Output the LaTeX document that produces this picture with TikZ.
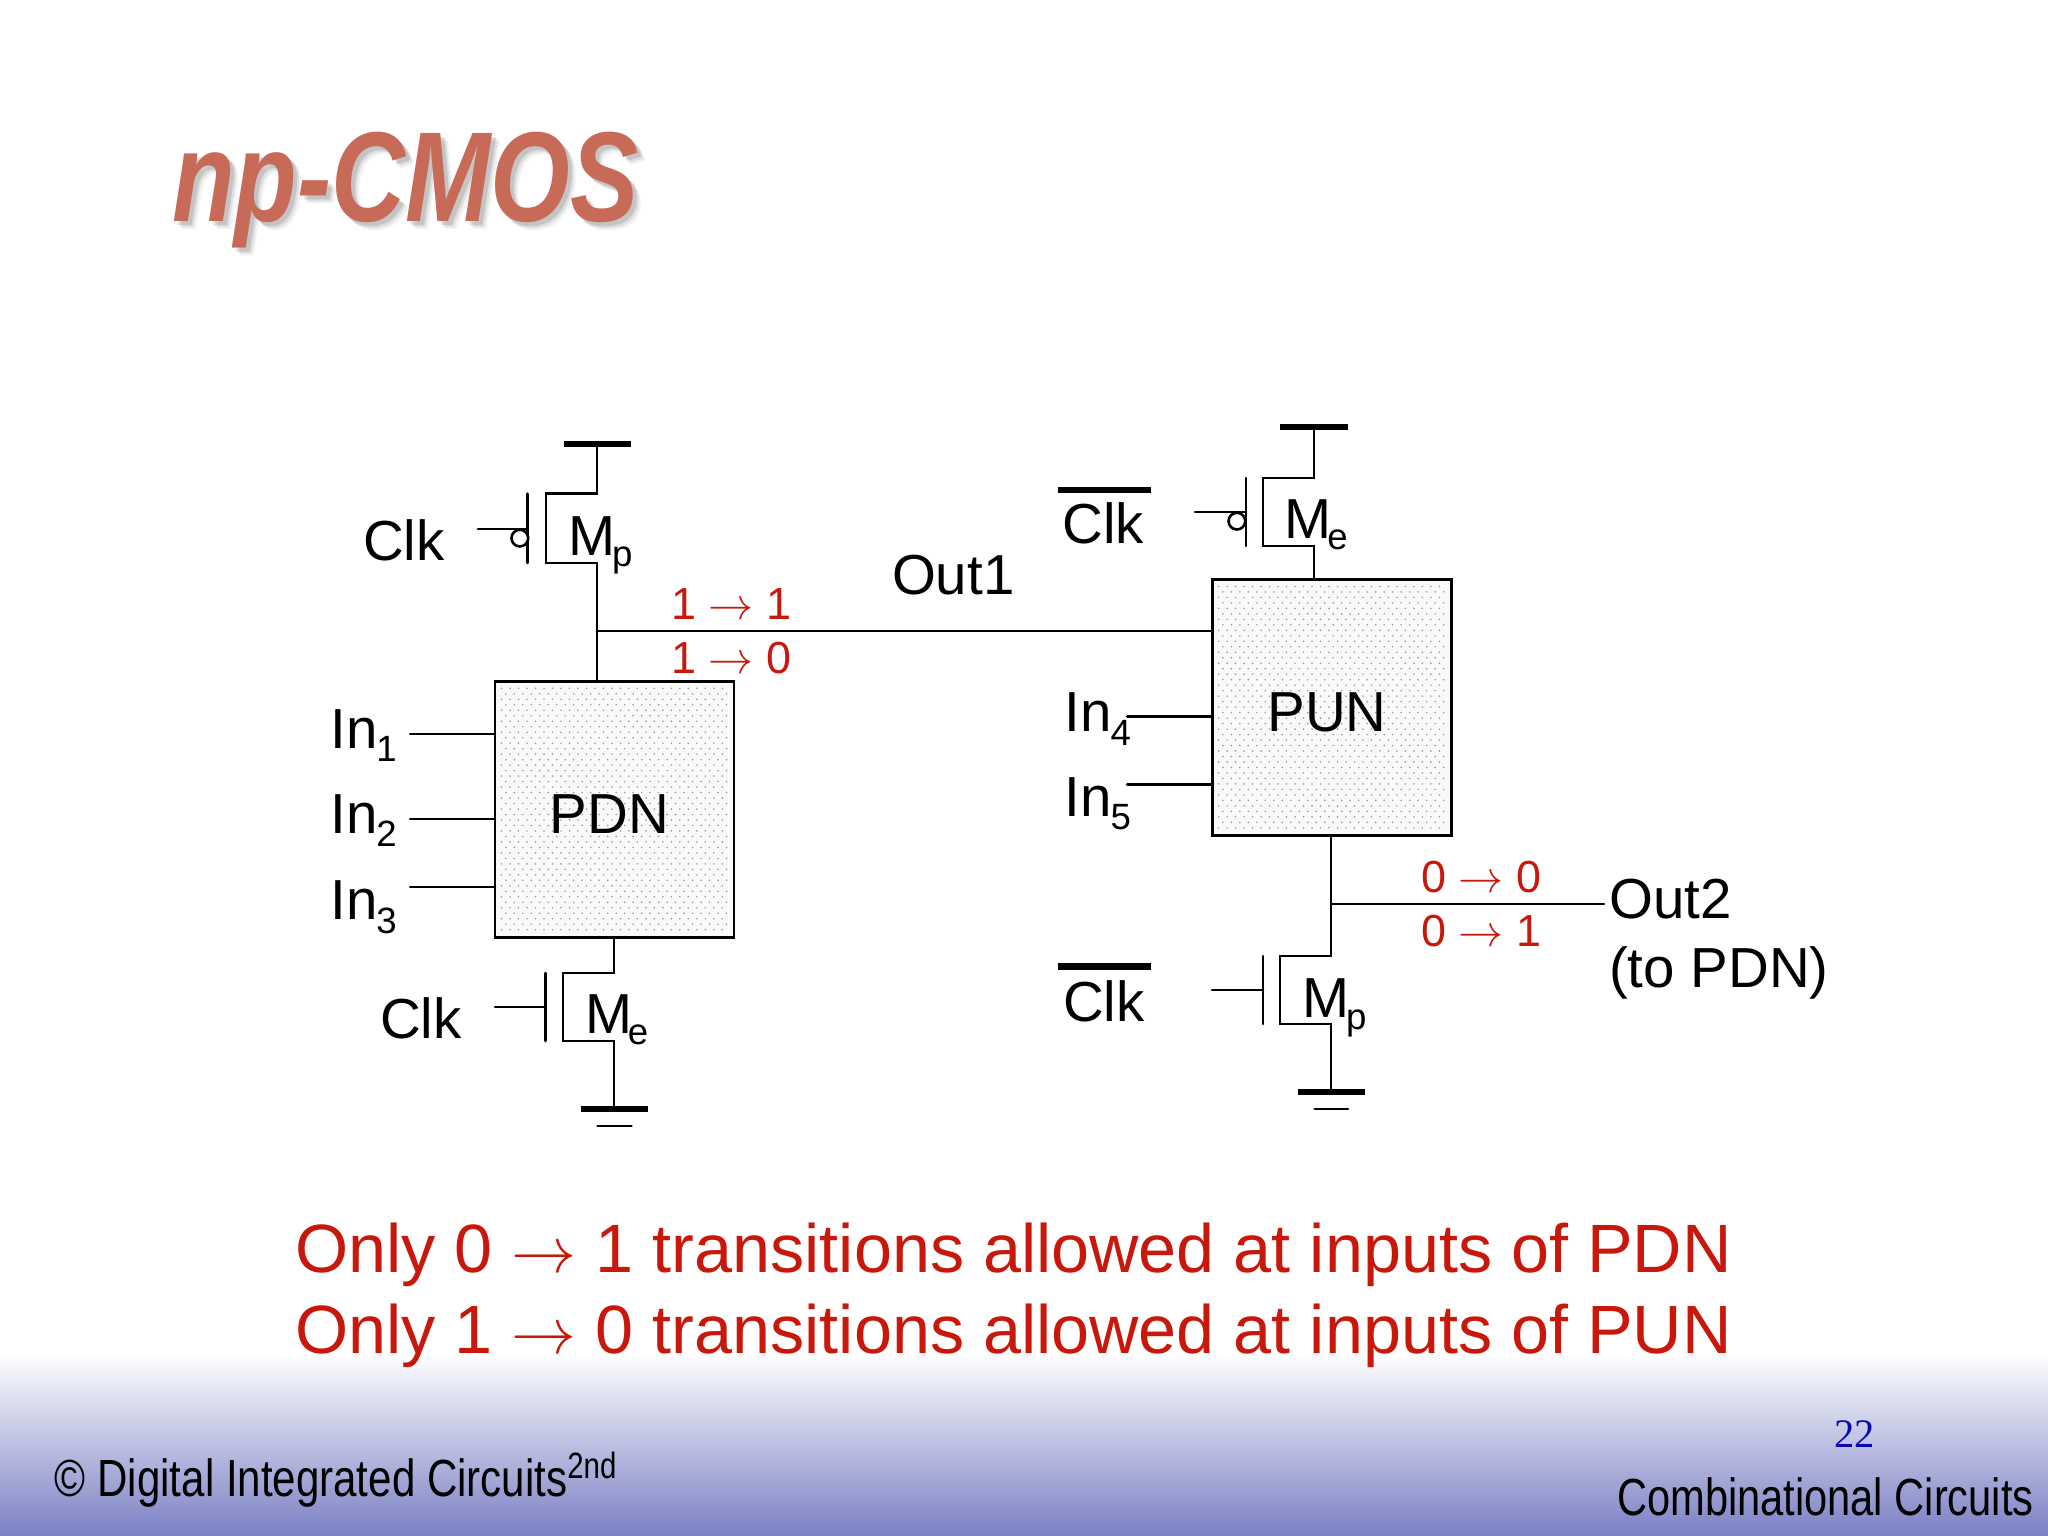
\documentclass[tikz,border=0pt]{standalone}
\usepackage{fontspec}
\setmainfont{Liberation Sans}
\newfontfamily\serifnum{Liberation Serif}
\definecolor{sigred}{HTML}{C8180C}
\definecolor{titlered}{HTML}{C76B58}
\definecolor{footblue}{HTML}{7A80C4}
\definecolor{pagenum}{HTML}{0A0AB4}
\definecolor{stipbg}{HTML}{FAF9FA}
\definecolor{stipdot}{HTML}{A09DA2}
\newcommand{\subs}[1]{\hspace{-.4pt}\raisebox{-5.2pt}{\fontsize{14}{14}\selectfont #1}}
\newcommand{\subp}{\hspace{-1.2pt}\raisebox{-4.5pt}{\fontsize{14}{14}\selectfont p}}
\newcommand{\sube}{\hspace{-1.6pt}\raisebox{-4.5pt}{\fontsize{14}{14}\selectfont e}}
\newcommand{\stipple}[4]{%
  \fill[stipdot] \foreach \i in {0,...,#3} {\foreach \j in {0,...,#4} {
     ({#1+5+6.5*\i+3.25*mod(\j,2)},{#2+5+4.2*\j}) circle[radius=.7]}};}
\tikzset{
  wire/.style={line width=1pt,line cap=round,line join=miter},
  railbar/.style={line width=2.4pt},
  overbar/.style={line width=2.5pt},
  netbox/.style={draw,line width=1.1pt,fill=stipbg,anchor=north west,inner sep=0pt,outer sep=0pt},
  txt/.style={anchor=base west,inner sep=0pt,outer sep=0pt,font=\fontsize{21.6}{25}\selectfont},
  ctxt/.style={anchor=base,inner sep=0pt,outer sep=0pt,font=\fontsize{21.6}{25}\selectfont},
  lvl/.style={anchor=base west,inner sep=0pt,outer sep=0pt,text=sigred,font=\fontsize{17.2}{21}\selectfont},
  note/.style={anchor=base west,inner sep=0pt,outer sep=0pt,text=sigred,font=\fontsize{26.17}{30}\selectfont},
  foot/.style={anchor=base west,inner sep=0pt,outer sep=0pt,font=\fontsize{20}{24}\selectfont},
  bubble/.style={draw,circle,fill=white,line width=1pt,minimum size=6.4pt,inner sep=0pt},
}
\begin{document}
\begin{tikzpicture}[x=.5pt,y=-.5pt]
\useasboundingbox (0,0) rectangle (1568,1176);
\shade[top color=white,bottom color=footblue] (0,1036) rectangle (1568,1176);

% title
\foreach \d/\o in {6/.05,4.5/.08,3/.12}
  \node[anchor=base west,inner sep=0pt,text=black,opacity=\o,font=\fontsize{49}{50}\bfseries\itshape\selectfont] at ({131.5+\d},{169.5+\d}) {\scalebox{.8}[1]{np-CMOS}};
\node[name=title,anchor=base west,inner sep=0pt,text=titlered,font=\fontsize{49}{50}\bfseries\itshape\selectfont] at (131.5,169.5) {\scalebox{.8}[1]{np-CMOS}};

% logic blocks
\node[netbox,minimum width=91.5pt,minimum height=98pt] (pdn) at (379,522) {};
\stipple{379}{522}{26}{44}
\node[netbox,minimum width=91.5pt,minimum height=98pt] (pun) at (928,444) {};
\stipple{928}{444}{26}{44}
\node[ctxt] (pdnt) at (466.5,638) {PDN};
\node[ctxt] (punt) at (1016,560) {PUN};

% left precharge transistor
\coordinate (vddL) at (457,340);
\coordinate (mpS) at (457,378);
\coordinate (mpC) at (418,378);
\coordinate (mpE) at (418,431);
\coordinate (mpD) at (457,431);
\coordinate (pdnT) at (457,522);
\coordinate (outJ) at (457,483);
\coordinate (mpG1) at (404,378);
\coordinate (mpG2) at (404,431);
\coordinate (mpIn) at (366,405);
\coordinate (mpGm) at (404,405);
\draw[railbar] (432,340) -- (483,340);
\draw[wire] (vddL) -- (mpS) -- (mpC) -- (mpE) -- (mpD) -- (pdnT);
\draw[wire] (mpG1) -- (mpG2);
\draw[wire] (mpIn) -- (mpGm);
\node[bubble] (mpB) at (398,412) {};
\node[txt] (clkA) at (278,429) {Clk};
\node[txt] (mpL) at (435,425) {M\subp};

% Out1
\draw[wire] (outJ) -- (928,483);
\node[txt] (out1) at (683,455) {Out1};
\node[lvl] (l11) at (514,474) {1 $\rightarrow$ 1};
\node[lvl] (l10) at (514,516) {1 $\rightarrow$ 0};

% PDN inputs
\node[txt] (in1) at (253,573) {In\subs{1}};
\node[txt] (in2) at (253,638) {In\subs{2}};
\node[txt] (in3) at (253,704) {In\subs{3}};
\coordinate (in1a) at (314,562);
\coordinate (in2a) at (314,627);
\coordinate (in3a) at (314,679);
\draw[wire] (in1a) -- (in1a -| pdn.west);
\draw[wire] (in2a) -- (in2a -| pdn.west);
\draw[wire] (in3a) -- (in3a -| pdn.west);

% left evaluate transistor
\coordinate (pdnB) at (470,718);
\coordinate (meS) at (470,745);
\coordinate (meC) at (431,745);
\coordinate (meE) at (431,797);
\coordinate (meD) at (470,797);
\coordinate (gndL) at (470,849);
\draw[wire] (pdnB) -- (meS) -- (meC) -- (meE) -- (meD) -- (gndL);
\draw[wire] (417.5,745) -- (417.5,797);
\draw[wire] (379,771) -- (417.5,771);
\draw[railbar] (445,849) -- (496,849);
\draw[wire] (457.5,862) -- (483.5,862);
\node[txt] (clkB) at (291,795) {Clk};
\node[txt] (meL) at (448,791) {M\sube};

% right evaluate transistor
\coordinate (vddR) at (1006,327);
\coordinate (rS) at (1006,366);
\coordinate (rC) at (967,366);
\coordinate (rE) at (967,418);
\coordinate (rD) at (1006,418);
\coordinate (punT) at (1006,444);
\draw[railbar] (980,327) -- (1032,327);
\draw[wire] (vddR) -- (rS) -- (rC) -- (rE) -- (rD) -- (punT);
\draw[wire] (954,366) -- (954,418);
\draw[wire] (915,392) -- (954,392);
\node[bubble] (rB) at (947,399) {};
\node[txt] (clkC) at (813.5,416) {Clk};
\draw[overbar] (810,375) -- (881,375);
\node[txt] (meR) at (983.5,412) {M\sube};

% PUN inputs
\node[txt] (in4) at (815,560) {In\subs{4}};
\node[txt] (in5) at (815,625) {In\subs{5}};
\coordinate (in4a) at (863,548.5);
\coordinate (in5a) at (863,600.5);
\draw[wire] (in4a) -- (in4a -| pun.west);
\draw[wire] (in5a) -- (in5a -| pun.west);

% right precharge transistor
\coordinate (punB) at (1019,640);
\coordinate (out2J) at (1019,692);
\coordinate (pS) at (1019,732);
\coordinate (pC) at (980,732);
\coordinate (pE) at (980,784);
\coordinate (pD) at (1019,784);
\coordinate (gndR) at (1019,836);
\coordinate (out2a) at (1228,692);
\draw[wire] (punB) -- (out2J) -- (pS) -- (pC) -- (pE) -- (pD) -- (gndR);
\draw[wire] (out2J) -- (out2a);
\draw[wire] (967,732) -- (967,784);
\draw[wire] (928,758) -- (967,758);
\draw[railbar] (994,836) -- (1045,836);
\draw[wire] (1006.5,849) -- (1032,849);
\node[txt] (clkD) at (814,782) {Clk};
\draw[overbar] (810,740) -- (881,740);
\node[txt] (mpR) at (997,779) {M\subp};
\node[lvl] (l00) at (1088,683) {0 $\rightarrow$ 0};
\node[lvl] (l01) at (1088,725) {0 $\rightarrow$ 1};
\node[txt] (out2) at (1232,703) {Out2};
\node[txt] (topdn) at (1232,756) {(to PDN)};

% notes
\node[note] (n1) at (226,974) {Only 0 $\rightarrow$ 1 transitions allowed at inputs of PDN};
\node[note] (n2) at (226,1036) {Only 1 $\rightarrow$ 0 transitions allowed at inputs of PUN};

% footer
\node[foot] (f1) at (42,1146) {\scalebox{.805}[1]{© Digital Integrated Circuits\raisebox{7pt}{\fontsize{14}{14}\selectfont 2nd}}};
\node[foot,anchor=base east] (f2) at (1557,1160) {\scalebox{.797}[1]{Combinational Circuits}};
\node[anchor=base west,inner sep=0pt,text=pagenum,font=\serifnum\fontsize{15.5}{18}\selectfont] (pg) at (1404,1108) {22};
\end{tikzpicture}
\end{document}
